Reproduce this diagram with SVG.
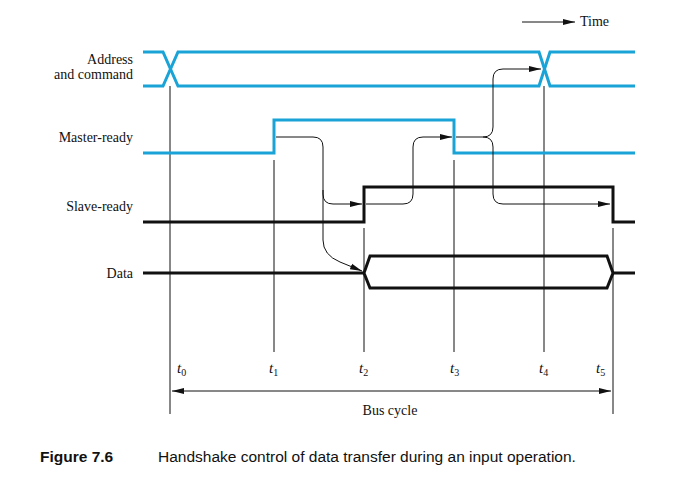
<svg xmlns="http://www.w3.org/2000/svg" width="691" height="486" viewBox="0 0 691 486">
<style>
.lbl{font-family:"Liberation Serif",serif;font-size:14px;fill:#111}
.t{font-family:"Liberation Serif",serif;font-size:15px;font-style:italic;fill:#111}
.sub{font-size:10px;font-style:normal}
.blue{fill:none;stroke:#1aa3d6;stroke-width:3}
.blk{fill:none;stroke:#111;stroke-width:3}
.thin{fill:none;stroke:#111;stroke-width:1}
.arr{fill:none;stroke:#111;stroke-width:1;marker-end:url(#ah)}
.cap{font-family:"Liberation Sans",sans-serif;font-size:15.5px;fill:#111}
</style>
<defs>
<marker id="ah" markerWidth="12" markerHeight="8" refX="12" refY="4" orient="auto" markerUnits="userSpaceOnUse"><path d="M0,1 L12,4 L0,7 Z" fill="#111"/></marker>
<marker id="ahs" markerWidth="12" markerHeight="8" refX="0" refY="4" orient="auto" markerUnits="userSpaceOnUse"><path d="M12,1 L0,4 L12,7 Z" fill="#111"/></marker>
</defs>
<rect width="691" height="486" fill="#fff"/>
<g id="time"><line class="thin" x1="522" y1="22" x2="575" y2="22" marker-end="url(#ah)"/><text class="lbl" x="580" y="26">Time</text></g>
<g id="labels">
<text class="lbl" x="133" y="64" text-anchor="end">Address</text>
<text class="lbl" x="133" y="79" text-anchor="end">and command</text>
<text class="lbl" x="133" y="142" text-anchor="end">Master-ready</text>
<text class="lbl" x="133" y="211" text-anchor="end">Slave-ready</text>
<text class="lbl" x="133" y="278" text-anchor="end">Data</text>
</g>
<g id="gridlines">
<line class="thin" x1="170" y1="86" x2="170" y2="414"/>
<line class="thin" x1="274" y1="160" x2="274" y2="352"/>
<line class="thin" x1="364" y1="228" x2="364" y2="352"/>
<line class="thin" x1="454" y1="160" x2="454" y2="352"/>
<line class="thin" x1="544" y1="86" x2="544" y2="352"/>
<line class="thin" x1="613" y1="228" x2="613" y2="414"/>
</g>
<g id="address">
<path class="blue" d="M143,52 H163 L178,86 H539 L550,52 H635"/>
<path class="blue" d="M143,86 H163 L178,52 H539 L550,86 H635"/>
</g>
<g id="master"><path class="blue" d="M143,153 H274 V120 H454 V153 H635"/></g>
<g id="slave"><path class="blk" d="M143,222 H364 V187 H613 V222 H635"/></g>
<g id="data">
<path class="blk" d="M143,273 H364 M613,273 H635"/>
<path class="blk" d="M364,273 L370,256 H607 L613,273 L607,288 H370 Z"/>
</g>
<g id="connectors">
<path class="arr" d="M276,137 H313 Q323,137 323,147 V194 Q323,204 333,204 H362"/>
<path class="arr" d="M323,190 V240 Q323,255 340,262 L362,271"/>
<path class="arr" d="M366,204 H403 Q413,204 413,194 V147 Q413,137 423,137 H452"/>
<path class="arr" d="M456,137 H483 Q493,137 493,127 V79 Q493,69 503,69 H541"/>
<path class="arr" d="M483,137 Q493,137 493,147 V194 Q493,204 503,204 H610"/>
<line class="thin" x1="172" y1="391" x2="611" y2="391" marker-end="url(#ah)" marker-start="url(#ahs)"/>
</g>
<g id="tlabels">
<text class="t" x="177" y="373">t<tspan class="sub" dy="3">0</tspan></text>
<text class="t" x="269" y="373">t<tspan class="sub" dy="3">1</tspan></text>
<text class="t" x="359" y="373">t<tspan class="sub" dy="3">2</tspan></text>
<text class="t" x="450" y="373">t<tspan class="sub" dy="3">3</tspan></text>
<text class="t" x="539" y="373">t<tspan class="sub" dy="3">4</tspan></text>
<text class="t" x="596" y="373">t<tspan class="sub" dy="3">5</tspan></text>
<text class="lbl" x="390" y="415" text-anchor="middle">Bus cycle</text>
</g>
<g id="caption">
<text class="cap" x="40" y="462" font-weight="bold" font-size="17">Figure 7.6</text>
<text class="cap" x="158" y="462">Handshake control of data transfer during an input operation.</text>
</g>
</svg>
